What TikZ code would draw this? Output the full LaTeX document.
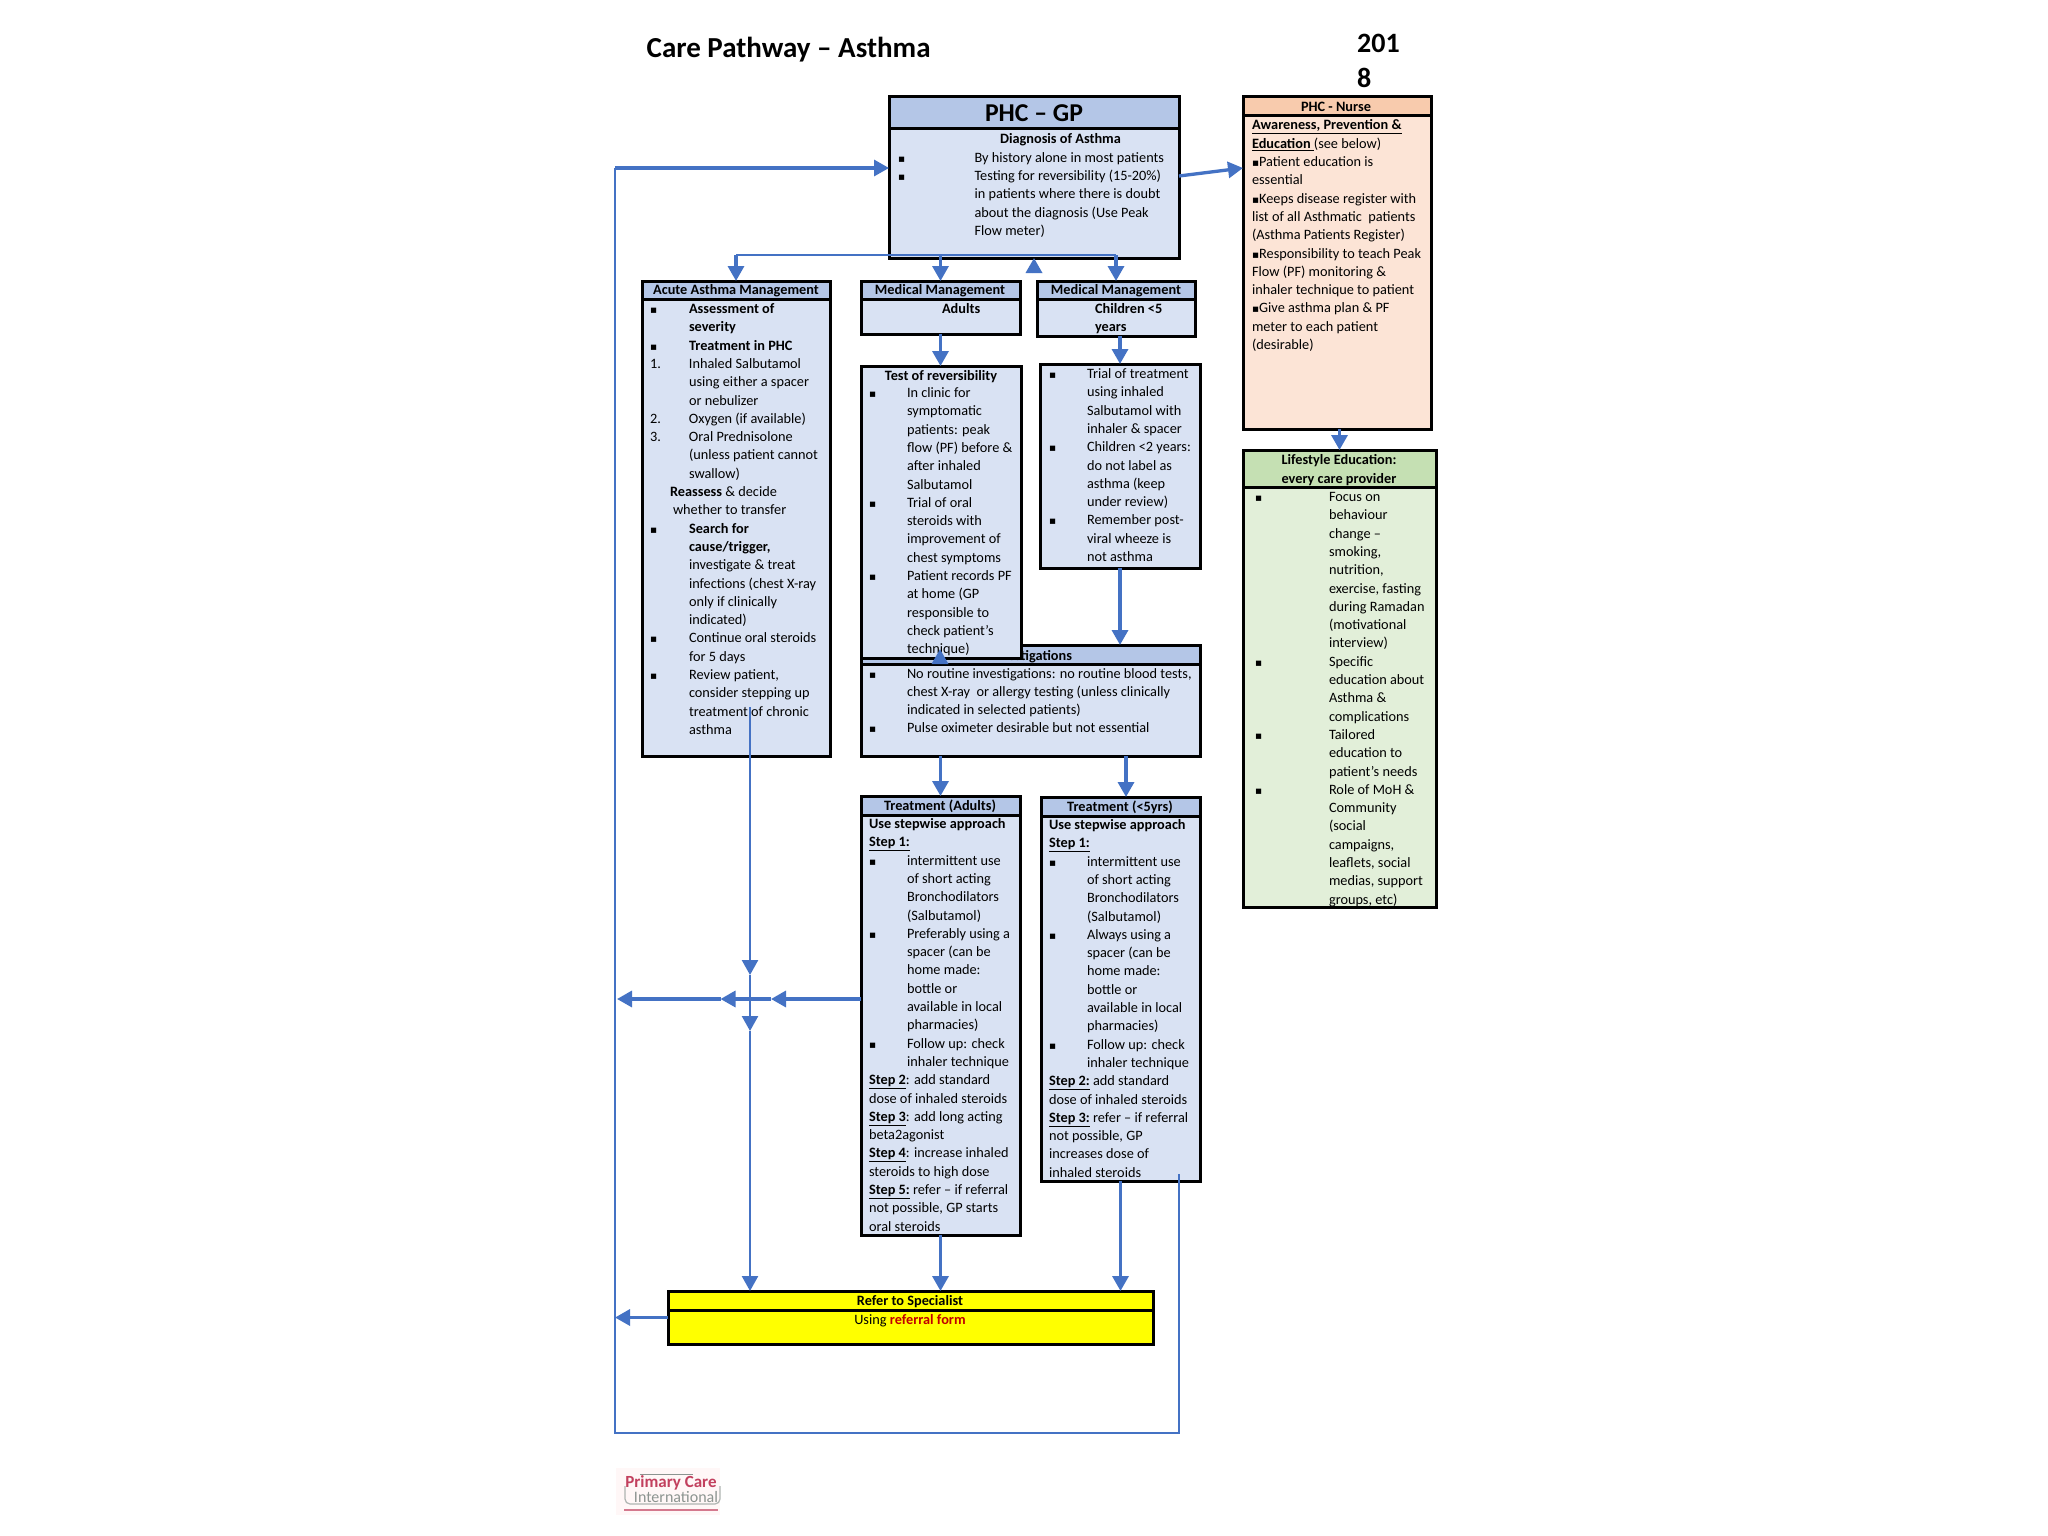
\documentclass[tikz,border=0pt]{standalone}
\usepackage{fontspec}
\usetikzlibrary{arrows.meta,calc}
\setmainfont{Carlito}
\newfontfamily\djf{DejaVu Sans}
\definecolor{hdblue}{HTML}{B4C6E7}
\definecolor{bdblue}{HTML}{D9E2F3}
\definecolor{hdpeach}{HTML}{F8CBAD}
\definecolor{bdpeach}{HTML}{FCE4D6}
\definecolor{hdgreen}{HTML}{C5E0B3}
\definecolor{bdgreen}{HTML}{E2EFD9}
\definecolor{flowblue}{HTML}{4472C4}
\definecolor{refred}{HTML}{C00000}
\definecolor{refyellow}{RGB}{255,255,0}
\definecolor{logored}{HTML}{C2405E}
\definecolor{logogray}{HTML}{8C9490}
\newlength\ind
\newcommand\lines[2][0pt]{\vtop{\ind=#1\relax\baselineskip=18.3pt\lineskiplimit=-100pt\halign{##\hfil\cr #2\crcr}}}
\newcommand\sq{{\djf\fontsize{10.5}{10.5}\selectfont ▪}}
\newcommand\bu[1]{\makebox[\ind][l]{\sq}#1}
\newcommand\ct[1]{\hspace*{\ind}#1}
\newcommand\ub[1]{\underline{\textbf{#1}}}
\tikzset{
  x=1pt,y=-1pt,
  box/.style={draw=black,line width=3pt,anchor=north west,inner sep=0pt,outer sep=0pt},
  txt/.style={anchor=base west,inner sep=0pt,outer sep=0pt,yshift=-1pt,font=\fontsize{14.3}{18.3}\selectfont},
  ctxt/.style={anchor=base,inner sep=0pt,outer sep=0pt,yshift=-1pt,font=\fontsize{14.3}{18.3}\selectfont\bfseries},
  flow/.style={draw=flowblue,line width=3.3pt,-{Triangle[length=15pt,width=16pt]}},
  flowthin/.style={draw=flowblue,line width=2.4pt,-{Triangle[length=15pt,width=16pt]}},
  flowline/.style={draw=flowblue,line width=2.5pt},
  thinline/.style={draw=flowblue,line width=1.3pt},
}
% #1 name, #2 x0, #3 y0, #4 x1, #5 y1, #6 divider y, #7 header colour, #8 body colour
\newcommand\panel[8]{%
  \path[fill=#8] (#2,#3) rectangle (#4,#5);
  \path[fill=#7] (#2,#3) rectangle (#4,#6);
  \node[box,minimum width=#4pt-#2pt,minimum height=#5pt-#3pt] (#1) at (#2,#3) {};
  \draw[black,line width=3pt] (#2,#6) -- (#4,#6);
}
\begin{document}
\begin{tikzpicture}
\useasboundingbox[fill=white] (0,0) rectangle (2048,1536);

% titles
\node[anchor=base west,inner sep=0pt,font=\fontsize{29}{34}\selectfont\bfseries] (title) at (646.5,58) {Care Pathway – Asthma};
\node[anchor=base west,inner sep=0pt,font=\fontsize{28}{34}\selectfont\bfseries] (yearA) at (1357,53) {201};
\node[anchor=base west,inner sep=0pt,font=\fontsize{28}{34}\selectfont\bfseries] (yearB) at (1357,88) {8};

% PHC-GP
\panel{gp}{889}{97}{1179}{258}{129}{hdblue}{bdblue}
\node[anchor=base,inner sep=0pt,font=\fontsize{25.7}{30}\selectfont\bfseries] (gph) at (1034,122) {PHC – GP};
\node[txt] (gpt) at (898,143) {\lines[76.5pt]{\hspace*{102pt}\textbf{Diagnosis of Asthma}\cr
\bu{By history alone in most patients}\cr
\bu{Testing for reversibility (15-20\%)}\cr
\ct{in patients where there is doubt}\cr
\ct{about the diagnosis (Use Peak}\cr
\ct{Flow meter)}}};

% Nurse
\panel{nurse}{1243}{97}{1431}{429}{116}{hdpeach}{bdpeach}
\node[ctxt] (nh) at (1336,111) {PHC - Nurse};
\node[txt] (nt) at (1252,129) {\lines{\ub{Awareness, Prevention \&}\cr
\ub{Education }(see below)\cr
\sq{}Patient education is\cr
essential\cr
\sq{}Keeps disease register with\cr
list of all Asthmatic\ \ patients\cr
(Asthma Patients Register)\cr
\sq{}Responsibility to teach Peak\cr
Flow (PF) monitoring \&\cr
inhaler technique to patient\cr
\sq{}Give asthma plan \& PF\cr
meter to each patient\cr
(desirable)}};

% Lifestyle
\panel{life}{1243}{450}{1436}{907}{487}{hdgreen}{bdgreen}
\node[ctxt] (lh1) at (1339,463.5) {Lifestyle Education:};
\node[ctxt] (lh2) at (1339,482) {every care provider};
\node[txt] (lt) at (1255,500.5) {\lines[74pt]{\bu{Focus on}\cr
\ct{behaviour}\cr
\ct{change –}\cr
\ct{smoking,}\cr
\ct{nutrition,}\cr
\ct{exercise, fasting}\cr
\ct{during Ramadan}\cr
\ct{(motivational}\cr
\ct{interview)}\cr
\bu{Specific}\cr
\ct{education about}\cr
\ct{Asthma \&}\cr
\ct{complications}\cr
\bu{Tailored}\cr
\ct{education to}\cr
\ct{patient’s needs}\cr
\bu{Role of MoH \&}\cr
\ct{Community}\cr
\ct{(social}\cr
\ct{campaigns,}\cr
\ct{leaflets, social}\cr
\ct{medias, support}\cr
\ct{groups, etc)}}};

% Acute
\panel{acute}{642}{281}{830}{756}{299}{hdblue}{bdblue}
\node[ctxt] (ah) at (736,293.5) {Acute Asthma Management};
\node[txt] (at) at (650,312.5) {\lines[39pt]{\bu{\textbf{Assessment of}}\cr
\ct{\textbf{severity}}\cr
\bu{\textbf{Treatment in PHC}}\cr
\makebox[\ind][l]{1.}Inhaled Salbutamol\cr
\ct{using either a spacer}\cr
\ct{or nebulizer}\cr
\makebox[\ind][l]{2.}Oxygen (if available)\cr
\makebox[\ind][l]{3.}Oral Prednisolone\cr
\ct{(unless patient cannot}\cr
\ct{swallow)}\cr
\hspace*{20pt}\textbf{Reassess} \& decide\cr
\hspace*{23pt}whether to transfer\cr
\bu{\textbf{Search for}}\cr
\ct{\textbf{cause/trigger,}}\cr
\ct{investigate \& treat}\cr
\ct{infections (chest X-ray}\cr
\ct{only if clinically}\cr
\ct{indicated)}\cr
\bu{Continue oral steroids}\cr
\ct{for 5 days}\cr
\bu{Review patient,}\cr
\ct{consider stepping up}\cr
\ct{treatment of chronic}\cr
\ct{asthma}}};

% Medical management
\panel{meda}{861}{281}{1020}{334}{299}{hdblue}{bdblue}
\node[ctxt] (mah) at (940,293.5) {Medical Management};
\node[txt,font=\fontsize{14.3}{18.3}\selectfont\bfseries] (mat) at (942,312.5) {Adults};
\panel{medc}{1037}{281}{1195}{336}{299}{hdblue}{bdblue}
\node[ctxt] (mch) at (1116,293.5) {Medical Management};
\node[txt] (mct) at (1095,312.5) {\lines{\textbf{Children <5}\cr\textbf{years}}};

% Investigations (partly behind the test box)
\panel{inv}{861}{645}{1200}{756}{664}{hdblue}{bdblue}
\node[ctxt] (ih) at (1031,659) {Investigations};
\node[txt] (it) at (869,677) {\lines[38pt]{\bu{No routine investigations: no routine blood tests,}\cr
\ct{chest X-ray\ \ or allergy testing (unless clinically}\cr
\ct{indicated in selected patients)}\cr
\bu{Pulse oximeter desirable but not essential}}};

% Test of reversibility
\panel{test}{861}{366}{1021}{658}{366}{bdblue}{bdblue}
\node[ctxt] (th) at (941,379.5) {Test of reversibility};
\node[txt] (tt) at (869,396.5) {\lines[38pt]{\bu{In clinic for}\cr
\ct{symptomatic}\cr
\ct{patients: peak}\cr
\ct{flow (PF) before \&}\cr
\ct{after inhaled}\cr
\ct{Salbutamol}\cr
\bu{Trial of oral}\cr
\ct{steroids with}\cr
\ct{improvement of}\cr
\ct{chest symptoms}\cr
\bu{Patient records PF}\cr
\ct{at home (GP}\cr
\ct{responsible to}\cr
\ct{check patient’s}\cr
\ct{technique)}}};

% Trial
\panel{trial}{1040}{364}{1200}{568}{364}{bdblue}{bdblue}
\node[txt] (trt) at (1049,377.5) {\lines[38pt]{\bu{Trial of treatment}\cr
\ct{using inhaled}\cr
\ct{Salbutamol with}\cr
\ct{inhaler \& spacer}\cr
\bu{Children <2 years:}\cr
\ct{do not label as}\cr
\ct{asthma (keep}\cr
\ct{under review)}\cr
\bu{Remember post-}\cr
\ct{viral wheeze is}\cr
\ct{not asthma}}};

% Treatment adults
\panel{ta}{861}{796}{1020}{1235}{815}{hdblue}{bdblue}
\node[ctxt] (tah) at (940,809) {Treatment (Adults)};
\node[txt] (tat) at (869,827.5) {\lines[38pt]{\textbf{Use stepwise approach}\cr
\ub{Step 1:}\cr
\bu{intermittent use}\cr
\ct{of short acting}\cr
\ct{Bronchodilators}\cr
\ct{(Salbutamol)}\cr
\bu{Preferably using a}\cr
\ct{spacer (can be}\cr
\ct{home made:}\cr
\ct{bottle or}\cr
\ct{available in local}\cr
\ct{pharmacies)}\cr
\bu{Follow up: check}\cr
\ct{inhaler technique}\cr
\ub{Step 2}: add standard\cr
dose of inhaled steroids\cr
\ub{Step 3}: add long acting\cr
beta2agonist\cr
\ub{Step 4}: increase inhaled\cr
steroids to high dose\cr
\ub{Step 5:} refer – if referral\cr
not possible, GP starts\cr
oral steroids}};

% Treatment children
\panel{tc}{1041}{797}{1200}{1181}{816}{hdblue}{bdblue}
\node[ctxt] (tch) at (1120,810) {Treatment (<5yrs)};
\node[txt] (tct) at (1049,828.5) {\lines[38pt]{\textbf{Use stepwise approach}\cr
\ub{Step 1:}\cr
\bu{intermittent use}\cr
\ct{of short acting}\cr
\ct{Bronchodilators}\cr
\ct{(Salbutamol)}\cr
\bu{Always using a}\cr
\ct{spacer (can be}\cr
\ct{home made:}\cr
\ct{bottle or}\cr
\ct{available in local}\cr
\ct{pharmacies)}\cr
\bu{Follow up: check}\cr
\ct{inhaler technique}\cr
\ub{Step 2:} add standard\cr
dose of inhaled steroids\cr
\ub{Step 3:} refer – if referral\cr
not possible, GP\cr
increases dose of\cr
inhaled steroids}};

% Refer
\panel{ref}{668}{1291}{1153}{1344}{1310}{refyellow}{refyellow}
\node[ctxt] (rh) at (910,1304.5) {Refer to Specialist};
\node[anchor=base,inner sep=0pt,yshift=-1pt,font=\fontsize{14.3}{18.3}\selectfont] (rt) at (910,1323) {Using \textcolor{refred}{\textbf{referral form}}};

% feedback loop
\coordinate (loopstart) at (1179,1174);
\coordinate (loopbr) at (1179,1433);
\coordinate (loopbl) at (615,1433);
\coordinate (looptl) at (615,168);
\draw[thinline,line join=miter] (loopstart) -- (loopbr) -- (loopbl) -- (looptl);

% connectors
\coordinate (busl) at (acute.north |- 0,255);
\coordinate (busr) at (medc.north |- 0,255);
\draw[flowline] (busl) -- (busr);
\draw[flow] (busl) -- (acute.north);
\draw[flow] (busl -| meda.north) -- (meda.north);
\draw[flow] (busr) -- (medc.north);
\coordinate (upb) at (1034,273);
\draw[flow] (upb) -- ++(0,-15);
\draw[flow] (looptl) -- (gp.west |- looptl);
\draw[flow] (gp.east |- 0,176) -- (nurse.west |- 0,168);
\draw[flow] (nurse.south -| life.north) -- (life.north);
\draw[flow] (meda.south) -- (test.north -| meda.south);
\draw[flow] (medc.south -| trial.north) -- (trial.north);
\draw[flow] (trial.south) -- (inv.north -| trial.south);
\coordinate (invup) at (940,664);
\draw[flow] (invup) -- ++(0,-15);
\draw[flow] (inv.south -| ta.north) -- (ta.north);
\coordinate (invc) at (1126,756);
\draw[flow] (invc) -- (tc.north -| invc);
\draw[flow] (ta.south) -- (ref.north -| ta.south);
\draw[flow] (tc.south) -- (ref.north -| tc.south);
\coordinate (ldown) at (750,707);
\coordinate (la) at (750,975);
\coordinate (lb) at (750,1031);
\draw[flowthin] (ldown) -- (la);
\draw[flowthin] (la) -- (lb);
\draw[flowthin] (lb) -- (ref.north -| lb);
\coordinate (ha) at (771,999);
\coordinate (hb) at (720.5,999);
\coordinate (hc) at (617,999);
\draw[flow] (ta.west |- ha) -- (ha);
\draw[flow] (ha) -- (hb);
\draw[flow] (hb) -- (hc);
\draw[flow] (ref.west) -- (looptl |- ref.west);

% logo
\path[fill=red!3] (616,1468) rectangle (720,1515);
\draw[logogray!70,line width=1.2pt,rounded corners=5pt] (625,1486) -- (625,1504) -- (720,1504) -- (720,1486);
\draw[logogray,line width=1pt] (640,1474) -- (693,1474);
\node[anchor=center,inner sep=0pt,font=\fontsize{17}{17}\selectfont\bfseries,text=logored] (logoa) at (671,1483) {Primary Care};
\node[anchor=center,inner sep=0pt,font=\fontsize{16}{16}\selectfont,text=logogray] (logob) at (676,1497) {International};
\draw[logored!70,line width=1.5pt] (624,1510) -- (718,1510);
\end{tikzpicture}
\end{document}
